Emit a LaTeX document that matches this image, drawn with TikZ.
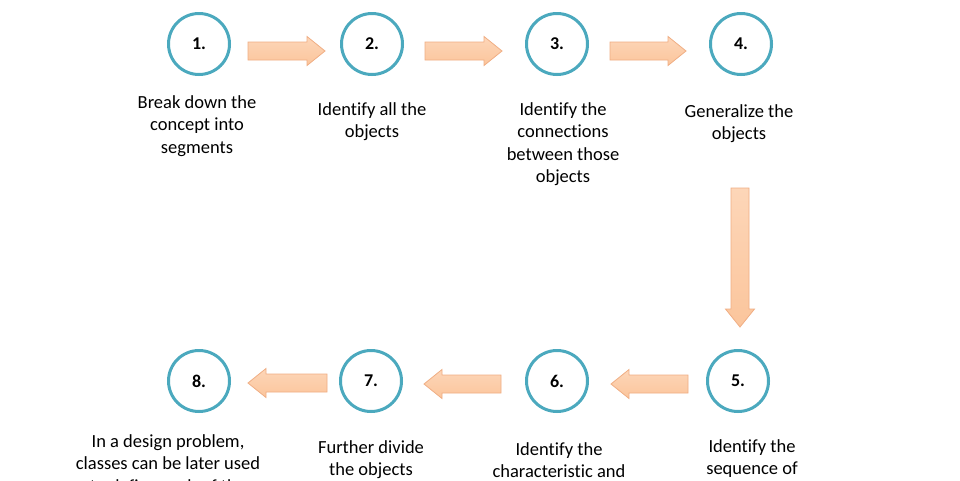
\documentclass[tikz,border=0pt]{standalone}
\usepackage{fontspec}
\setmainfont{Carlito}[Ligatures=NoCommon]
\begin{document}
\begin{tikzpicture}[x=1pt,y=-1pt,
  stepcircle/.style={circle,draw=tealc,line width=3pt,minimum size=61pt,inner sep=0pt,font=\fontsize{18}{20}\selectfont\bfseries},
  caption/.style={align=center,anchor=north,inner sep=0pt,font=\fontsize{18.5}{22.5}\selectfont},
  blk/.style={top color=peachtop,bottom color=peach,draw=peachline,line width=0.8pt},
  barrow/.pic={\path[blk] (0,-9)--(#1-18,-9)--(#1-18,-14.5)--(#1,0)--(#1-18,14.5)--(#1-18,9)--(0,9)--cycle;}
]
\definecolor{tealc}{HTML}{4BA9BE}
\definecolor{peach}{HTML}{FBC59C}
\definecolor{peachtop}{HTML}{FDD6B8}
\definecolor{peachline}{HTML}{F0AE84}
\useasboundingbox (0,0) rectangle (960,480);
\clip (0,0) rectangle (960,480);
\fill[white] (0,0) rectangle (960,480);

% circles
\node[stepcircle] (c1) at (199,44) {1.};
\node[stepcircle] (c2) at (372,44) {2.};
\node[stepcircle] (c3) at (557,44) {3.};
\node[stepcircle] (c4) at (741,44) {4.};
\node[stepcircle] (c5) at (738,381) {5.};
\node[stepcircle] (c6) at (557,381) {6.};
\node[stepcircle] (c7) at (371,381) {7.};
\node[stepcircle] (c8) at (199,381) {8.};

% block arrows
\pic at (248,51) {barrow=77};
\pic at (425,51) {barrow=77};
\pic at (610,51) {barrow=76};
\pic[rotate=-90] at (740,188) {barrow=139};
\pic[rotate=180] at (688,384) {barrow=77};
\pic[rotate=180] at (501,384) {barrow=77};
\pic[rotate=180] at (327,383) {barrow=79};

% captions
\node[caption] (t1) at (197,95) {Break down the\\concept into\\segments};
\node[caption] (t2) at (372,102) {Identify all the\\objects};
\node[caption] (t3) at (563,102) {Identify the\\connections\\between those\\objects};
\node[caption] (t4) at (739,104) {Generalize the\\objects};
\node[caption] (t5) at (752,439) {Identify the\\sequence of};
\node[caption] (t6) at (559,442) {Identify the\\characteristic and};
\node[caption] (t7) at (371,440) {Further divide\\the objects};
\node[caption] (t8) at (168,434) {In a design problem,\\classes can be later used\\to define each of the};
\end{tikzpicture}
\end{document}
